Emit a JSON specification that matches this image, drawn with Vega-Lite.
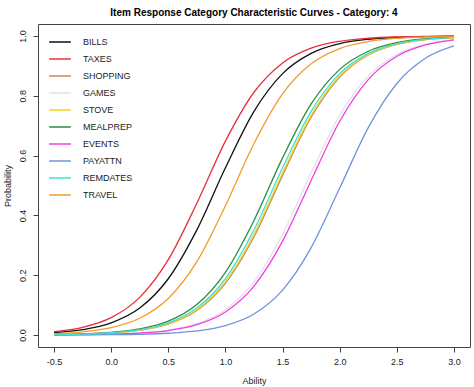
{
  "$schema": "https://vega.github.io/schema/vega-lite/v6.json",
  "width": 432,
  "height": 323,
  "autosize": "none",
  "padding": {"left": 38, "top": 24, "right": 4, "bottom": 40},
  "background": "white",
  "title": {"text": "Item Response Category Characteristic Curves - Category: 4", "font": "Liberation Sans", "fontSize": 10, "fontWeight": "bold", "anchor": "middle", "frame": "group", "offset": 6, "color": "#000"},
  "config": {
    "view": {"stroke": "#444", "strokeWidth": 1},
    "axis": {"grid": false, "domain": false, "tickColor": "#444", "tickSize": 5, "labelFont": "Liberation Sans", "labelFontSize": 9, "labelColor": "#222", "titleFont": "Liberation Sans", "titleFontSize": 9, "titleFontWeight": "normal", "titleColor": "#222"}
  },
  "data": {"values": [
    {"item":"BILLS","ability":-0.5,"p":0.0077},{"item":"BILLS","ability":-0.25,"p":0.0178},{"item":"BILLS","ability":0,"p":0.0406},{"item":"BILLS","ability":0.25,"p":0.0901},{"item":"BILLS","ability":0.5,"p":0.1882},{"item":"BILLS","ability":0.75,"p":0.3516},{"item":"BILLS","ability":1,"p":0.5592},{"item":"BILLS","ability":1.25,"p":0.748},{"item":"BILLS","ability":1.5,"p":0.8741},{"item":"BILLS","ability":1.75,"p":0.942},{"item":"BILLS","ability":2,"p":0.9744},{"item":"BILLS","ability":2.25,"p":0.9889},{"item":"BILLS","ability":2.5,"p":0.9952},{"item":"BILLS","ability":2.75,"p":0.9979},{"item":"BILLS","ability":3,"p":0.9991},
    {"item":"TAXES","ability":-0.5,"p":0.0111},{"item":"TAXES","ability":-0.25,"p":0.0256},{"item":"TAXES","ability":0,"p":0.058},{"item":"TAXES","ability":0.25,"p":0.1259},{"item":"TAXES","ability":0.5,"p":0.252},{"item":"TAXES","ability":0.75,"p":0.4408},{"item":"TAXES","ability":1,"p":0.6484},{"item":"TAXES","ability":1.25,"p":0.8118},{"item":"TAXES","ability":1.5,"p":0.9099},{"item":"TAXES","ability":1.75,"p":0.9594},{"item":"TAXES","ability":2,"p":0.9822},{"item":"TAXES","ability":2.25,"p":0.9923},{"item":"TAXES","ability":2.5,"p":0.9967},{"item":"TAXES","ability":2.75,"p":0.9986},{"item":"TAXES","ability":3,"p":0.9994},
    {"item":"SHOPPING","ability":-0.5,"p":0.0013},{"item":"SHOPPING","ability":-0.25,"p":0.003},{"item":"SHOPPING","ability":0,"p":0.0069},{"item":"SHOPPING","ability":0.25,"p":0.0161},{"item":"SHOPPING","ability":0.5,"p":0.0368},{"item":"SHOPPING","ability":0.75,"p":0.0821},{"item":"SHOPPING","ability":1,"p":0.1731},{"item":"SHOPPING","ability":1.25,"p":0.3287},{"item":"SHOPPING","ability":1.5,"p":0.5339},{"item":"SHOPPING","ability":1.75,"p":0.7283},{"item":"SHOPPING","ability":2,"p":0.8625},{"item":"SHOPPING","ability":2.25,"p":0.9362},{"item":"SHOPPING","ability":2.5,"p":0.9717},{"item":"SHOPPING","ability":2.75,"p":0.9877},{"item":"SHOPPING","ability":3,"p":0.9947},
    {"item":"GAMES","ability":-0.5,"p":0.0006},{"item":"GAMES","ability":-0.25,"p":0.0013},{"item":"GAMES","ability":0,"p":0.0031},{"item":"GAMES","ability":0.25,"p":0.0072},{"item":"GAMES","ability":0.5,"p":0.0166},{"item":"GAMES","ability":0.75,"p":0.038},{"item":"GAMES","ability":1,"p":0.0847},{"item":"GAMES","ability":1.25,"p":0.178},{"item":"GAMES","ability":1.5,"p":0.3362},{"item":"GAMES","ability":1.75,"p":0.5424},{"item":"GAMES","ability":2,"p":0.735},{"item":"GAMES","ability":2.25,"p":0.8665},{"item":"GAMES","ability":2.5,"p":0.9382},{"item":"GAMES","ability":2.75,"p":0.9726},{"item":"GAMES","ability":3,"p":0.9881},
    {"item":"STOVE","ability":-0.5,"p":0.0013},{"item":"STOVE","ability":-0.25,"p":0.0031},{"item":"STOVE","ability":0,"p":0.0072},{"item":"STOVE","ability":0.25,"p":0.0166},{"item":"STOVE","ability":0.5,"p":0.038},{"item":"STOVE","ability":0.75,"p":0.0847},{"item":"STOVE","ability":1,"p":0.178},{"item":"STOVE","ability":1.25,"p":0.3362},{"item":"STOVE","ability":1.5,"p":0.5424},{"item":"STOVE","ability":1.75,"p":0.735},{"item":"STOVE","ability":2,"p":0.8665},{"item":"STOVE","ability":2.25,"p":0.9382},{"item":"STOVE","ability":2.5,"p":0.9726},{"item":"STOVE","ability":2.75,"p":0.9881},{"item":"STOVE","ability":3,"p":0.9949},
    {"item":"MEALPREP","ability":-0.5,"p":0.0016},{"item":"MEALPREP","ability":-0.25,"p":0.0038},{"item":"MEALPREP","ability":0,"p":0.0088},{"item":"MEALPREP","ability":0.25,"p":0.0203},{"item":"MEALPREP","ability":0.5,"p":0.0463},{"item":"MEALPREP","ability":0.75,"p":0.1019},{"item":"MEALPREP","ability":1,"p":0.2098},{"item":"MEALPREP","ability":1.25,"p":0.3832},{"item":"MEALPREP","ability":1.5,"p":0.5924},{"item":"MEALPREP","ability":1.75,"p":0.7728},{"item":"MEALPREP","ability":2,"p":0.8883},{"item":"MEALPREP","ability":2.25,"p":0.949},{"item":"MEALPREP","ability":2.5,"p":0.9776},{"item":"MEALPREP","ability":2.75,"p":0.9903},{"item":"MEALPREP","ability":3,"p":0.9958},
    {"item":"EVENTS","ability":-0.5,"p":0.0005},{"item":"EVENTS","ability":-0.25,"p":0.0012},{"item":"EVENTS","ability":0,"p":0.0028},{"item":"EVENTS","ability":0.25,"p":0.0065},{"item":"EVENTS","ability":0.5,"p":0.015},{"item":"EVENTS","ability":0.75,"p":0.0345},{"item":"EVENTS","ability":1,"p":0.0771},{"item":"EVENTS","ability":1.25,"p":0.1636},{"item":"EVENTS","ability":1.5,"p":0.3139},{"item":"EVENTS","ability":1.75,"p":0.517},{"item":"EVENTS","ability":2,"p":0.7147},{"item":"EVENTS","ability":2.25,"p":0.8542},{"item":"EVENTS","ability":2.5,"p":0.932},{"item":"EVENTS","ability":2.75,"p":0.9698},{"item":"EVENTS","ability":3,"p":0.9868},
    {"item":"PAYATTN","ability":-0.5,"p":0.0002},{"item":"PAYATTN","ability":-0.25,"p":0.0005},{"item":"PAYATTN","ability":0,"p":0.0011},{"item":"PAYATTN","ability":0.25,"p":0.0025},{"item":"PAYATTN","ability":0.5,"p":0.0059},{"item":"PAYATTN","ability":0.75,"p":0.0136},{"item":"PAYATTN","ability":1,"p":0.0313},{"item":"PAYATTN","ability":1.25,"p":0.0702},{"item":"PAYATTN","ability":1.5,"p":0.1501},{"item":"PAYATTN","ability":1.75,"p":0.2923},{"item":"PAYATTN","ability":2,"p":0.4915},{"item":"PAYATTN","ability":2.25,"p":0.6934},{"item":"PAYATTN","ability":2.5,"p":0.841},{"item":"PAYATTN","ability":2.75,"p":0.9253},{"item":"PAYATTN","ability":3,"p":0.9666},
    {"item":"REMDATES","ability":-0.5,"p":0.0014},{"item":"REMDATES","ability":-0.25,"p":0.0033},{"item":"REMDATES","ability":0,"p":0.0077},{"item":"REMDATES","ability":0.25,"p":0.0178},{"item":"REMDATES","ability":0.5,"p":0.0406},{"item":"REMDATES","ability":0.75,"p":0.0901},{"item":"REMDATES","ability":1,"p":0.1882},{"item":"REMDATES","ability":1.25,"p":0.3516},{"item":"REMDATES","ability":1.5,"p":0.5592},{"item":"REMDATES","ability":1.75,"p":0.748},{"item":"REMDATES","ability":2,"p":0.8741},{"item":"REMDATES","ability":2.25,"p":0.942},{"item":"REMDATES","ability":2.5,"p":0.9744},{"item":"REMDATES","ability":2.75,"p":0.9889},{"item":"REMDATES","ability":3,"p":0.9952},
    {"item":"TRAVEL","ability":-0.5,"p":0.0046},{"item":"TRAVEL","ability":-0.25,"p":0.0108},{"item":"TRAVEL","ability":0,"p":0.0248},{"item":"TRAVEL","ability":0.25,"p":0.0561},{"item":"TRAVEL","ability":0.5,"p":0.1222},{"item":"TRAVEL","ability":0.75,"p":0.2456},{"item":"TRAVEL","ability":1,"p":0.4324},{"item":"TRAVEL","ability":1.25,"p":0.6406},{"item":"TRAVEL","ability":1.5,"p":0.8066},{"item":"TRAVEL","ability":1.75,"p":0.907},{"item":"TRAVEL","ability":2,"p":0.958},{"item":"TRAVEL","ability":2.25,"p":0.9816},{"item":"TRAVEL","ability":2.5,"p":0.9921},{"item":"TRAVEL","ability":2.75,"p":0.9966},{"item":"TRAVEL","ability":3,"p":0.9985}
  ]},
  "mark": {"type": "line", "interpolate": "monotone", "strokeWidth": 1.3},
  "encoding": {
    "x": {"field": "ability", "type": "quantitative", "scale": {"domain": [-0.64, 3.14], "nice": false, "zero": false},
      "axis": {"title": "Ability", "values": [-0.5, 0, 0.5, 1, 1.5, 2, 2.5, 3], "labelExpr": "replace(format(datum.value, '.1f'), '\u2212', '-')", "labelPadding": 5, "titlePadding": 10}},
    "y": {"field": "p", "type": "quantitative", "scale": {"domain": [-0.04, 1.04], "nice": false, "zero": false},
      "axis": {"title": "Probability", "values": [0, 0.2, 0.4, 0.6, 0.8, 1], "format": ".1f", "labelAngle": -90, "labelPadding": 6, "titlePadding": 6}},
    "color": {"field": "item", "type": "nominal",
      "scale": {"domain": ["BILLS","TAXES","SHOPPING","GAMES","STOVE","MEALPREP","EVENTS","PAYATTN","REMDATES","TRAVEL"],
                "range": ["#111111","#e8303c","#c8845a","#e2e2e2","#f2d21e","#2e8b3e","#f03ce6","#6f94e0","#40e0d0","#f59a2a"]},
      "legend": {"orient": "none", "legendX": 10, "legendY": 6, "title": null, "symbolType": "stroke", "symbolSize": 470, "symbolStrokeWidth": 1.5, "labelFont": "Liberation Sans", "labelFontSize": 9, "labelColor": "#222", "labelOffset": 11, "rowPadding": -1}}
  }
}
